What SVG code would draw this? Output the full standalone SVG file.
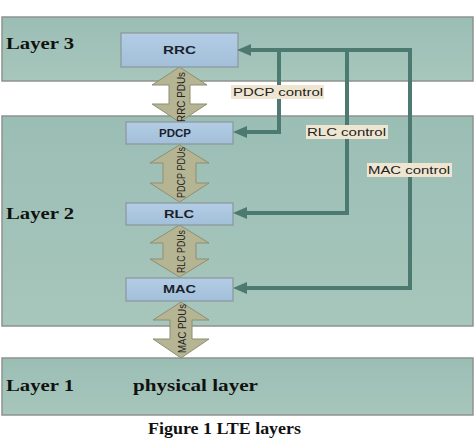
<svg xmlns="http://www.w3.org/2000/svg" width="474" height="438" viewBox="0 0 474 438">
<defs>
<linearGradient id="band" x1="0" y1="0" x2="0" y2="1">
<stop offset="0" stop-color="#9bbeb4"/>
<stop offset="1" stop-color="#a7c6bc"/>
</linearGradient>
<linearGradient id="box" x1="0" y1="0" x2="0" y2="1">
<stop offset="0" stop-color="#b3cde5"/>
<stop offset="1" stop-color="#a2bfd9"/>
</linearGradient>
<marker id="ah" viewBox="0 0 14 12" markerWidth="14" markerHeight="12" refX="6" refY="6" orient="auto" markerUnits="userSpaceOnUse">
<path d="M0,0 L14,6 L0,12 z" fill="#4d7a70"/>
</marker>
<style>
.band{fill:url(#band);stroke:#8e928e;stroke-width:1.5}
.box{fill:url(#box);stroke:#8c959c;stroke-width:1.2}
.bt{font-family:"Liberation Sans",Arial,sans-serif;font-weight:bold;font-size:11.5px;fill:#1b1f2e}
.lay{font-family:"Liberation Serif","Times New Roman",serif;font-weight:bold;font-size:17px;fill:#111}
.pdu{fill:#b5b594;stroke:#8e8e72;stroke-width:1}
.pt{font-family:"Liberation Sans",Arial,sans-serif;font-size:11.5px;fill:#222}
.ctl{fill:none;stroke:#4d7a70;stroke-width:4}
.lbg{fill:#efe6d2}
.lt{font-family:"Liberation Sans",Arial,sans-serif;font-size:11px;fill:#222}
</style>
</defs>
<rect x="0" y="0" width="474" height="438" fill="#ffffff"/>

<g id="layer3">
<rect class="band" x="2" y="17" width="471" height="64"/>
<text class="lay" x="6" y="49" textLength="68" lengthAdjust="spacingAndGlyphs">Layer 3</text>
</g>
<g id="layer2">
<rect class="band" x="2" y="116" width="471" height="210"/>
<text class="lay" x="6" y="219" textLength="68" lengthAdjust="spacingAndGlyphs">Layer 2</text>
</g>
<g id="layer1">
<rect class="band" x="2" y="358" width="471" height="57"/>
<text class="lay" x="6" y="391" textLength="68" lengthAdjust="spacingAndGlyphs">Layer 1</text>
<text class="lay" x="133" y="391" textLength="125" lengthAdjust="spacingAndGlyphs">physical layer</text>
</g>

<g id="pdus">
<g id="rrc-pdus">
<path class="pdu" d="M179.5,67 L207,85 L190,85 L190,104 L207,104 L179.5,122 L152,104 L169,104 L169,85 L152,85 Z"/>
<text class="pt" transform="translate(184.5,122) rotate(-90)" textLength="50" lengthAdjust="spacingAndGlyphs">RRC PDUs</text>
</g>
<g id="pdcp-pdus">
<path class="pdu" d="M179.5,145 L209,163 L196,163 L196,183 L209,183 L179.5,202 L150,183 L163,183 L163,163 L150,163 Z"/>
<text class="pt" transform="translate(184.5,198) rotate(-90)" textLength="51" lengthAdjust="spacingAndGlyphs">PDCP PDUs</text>
</g>
<g id="rlc-pdus">
<path class="pdu" d="M179.5,225 L209,243 L196,243 L196,259 L209,259 L179.5,277 L150,259 L163,259 L163,243 L150,243 Z"/>
<text class="pt" transform="translate(184.5,273) rotate(-90)" textLength="43" lengthAdjust="spacingAndGlyphs">RLC PDUs</text>
</g>
<g id="mac-pdus">
<path class="pdu" d="M181,302 L209,320 L192,320 L192,339 L209,339 L181,358 L153,339 L170,339 L170,320 L153,320 Z"/>
<text class="pt" transform="translate(186,353) rotate(-90)" textLength="49" lengthAdjust="spacingAndGlyphs">MAC PDUs</text>
</g>
</g>

<g id="rrc"><rect class="box" x="121" y="33" width="117" height="34"/><text class="bt" x="163" y="54" textLength="33" lengthAdjust="spacingAndGlyphs">RRC</text></g>
<g id="pdcp"><rect class="box" x="126" y="122" width="107" height="22"/><text class="bt" x="159" y="137" textLength="32" lengthAdjust="spacingAndGlyphs">PDCP</text></g>
<g id="rlc"><rect class="box" x="126" y="203" width="107" height="22"/><text class="bt" x="164" y="218" textLength="30" lengthAdjust="spacingAndGlyphs">RLC</text></g>
<g id="mac"><rect class="box" x="126" y="278" width="107" height="23"/><text class="bt" x="163" y="293" textLength="33" lengthAdjust="spacingAndGlyphs">MAC</text></g>

<g id="connectors">
<path class="ctl" d="M279,50 V132 H241" marker-end="url(#ah)"/>
<path class="ctl" d="M347,50 V213 H241" marker-end="url(#ah)"/>
<path class="ctl" d="M410,50 V288 H241" marker-end="url(#ah)"/>
<path class="ctl" d="M412,50 H245" marker-end="url(#ah)"/>
</g>

<g id="labels">
<rect class="lbg" x="231" y="85" width="93" height="14"/>
<text class="lt" x="233" y="96" textLength="90" lengthAdjust="spacingAndGlyphs">PDCP control</text>
<rect class="lbg" x="306" y="125" width="82" height="14"/>
<text class="lt" x="307" y="136" textLength="79" lengthAdjust="spacingAndGlyphs">RLC control</text>
<rect class="lbg" x="367" y="163" width="85" height="14"/>
<text class="lt" x="368" y="174" textLength="82" lengthAdjust="spacingAndGlyphs">MAC control</text>
</g>

<text class="lay" x="148" y="434" textLength="153" lengthAdjust="spacingAndGlyphs">Figure 1 LTE layers</text>
</svg>
